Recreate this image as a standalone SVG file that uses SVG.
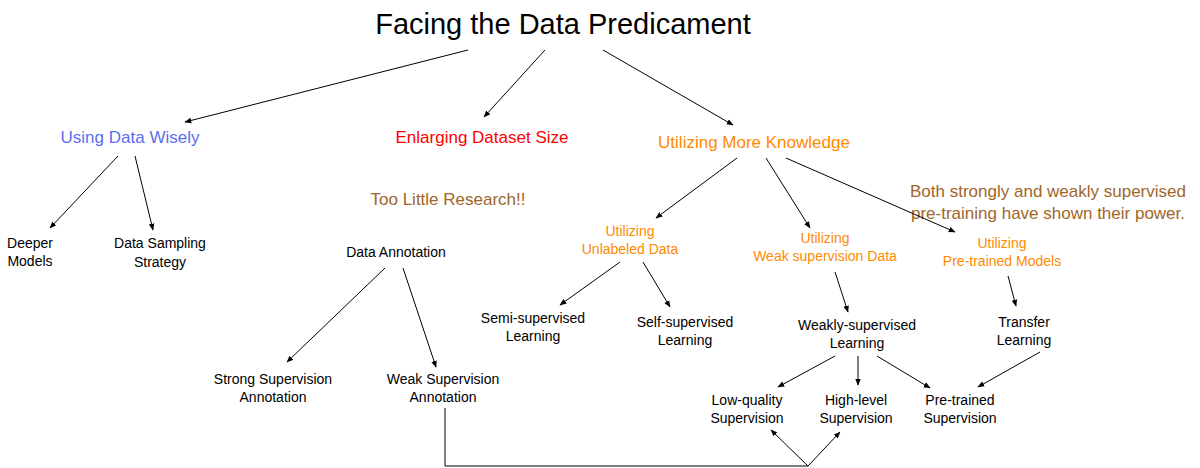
<svg xmlns="http://www.w3.org/2000/svg" width="1200" height="468" viewBox="0 0 1200 468">
<defs>
<marker id="a" viewBox="0 0 10 10" refX="9" refY="5" markerWidth="7" markerHeight="7" orient="auto"><path d="M0,1 L10,5 L0,9 z" fill="#000"/></marker>
<style>
text{font-family:"Helvetica","Liberation Sans",Arial,sans-serif;text-anchor:middle}
.n{font-size:14px;fill:#000}
.o{font-size:14px;fill:#ff8a00}
.h{font-size:17px}
.b{fill:#a0662a;font-size:17px}
line,path.c{stroke:#000;stroke-width:1;fill:none}
line{marker-end:url(#a)}
</style>
</defs>
<rect width="1200" height="468" fill="#fff"/>
<g id="title"><text x="563" y="34" style="font-size:29px">Facing the Data Predicament</text></g>
<g id="wisely"><text x="130" y="143" class="h" fill="#5a6ff0">Using Data Wisely</text></g>
<g id="enlarge"><text x="482" y="143" class="h" fill="#ff0000">Enlarging Dataset Size</text></g>
<g id="knowledge"><text x="754" y="148" class="h" fill="#ff8a00">Utilizing More Knowledge</text></g>
<g id="deeper"><text x="30" y="248" class="n">Deeper</text><text x="30" y="266" class="n">Models</text></g>
<g id="sampling"><text x="160" y="248" class="n">Data Sampling</text><text x="160" y="267" class="n">Strategy</text></g>
<g id="research"><text x="448" y="205" class="b">Too Little Research!!</text></g>
<g id="annotation"><text x="396" y="257" class="n">Data Annotation</text></g>
<g id="strong"><text x="273" y="384" class="n">Strong Supervision</text><text x="273" y="402" class="n">Annotation</text></g>
<g id="weak"><text x="443" y="384" class="n">Weak Supervision</text><text x="443" y="402" class="n">Annotation</text></g>
<g id="unlabeled"><text x="630" y="236" class="o">Utilizing</text><text x="630" y="254" class="o">Unlabeled Data</text></g>
<g id="semi"><text x="533" y="323" class="n">Semi-supervised</text><text x="533" y="341" class="n">Learning</text></g>
<g id="self"><text x="685" y="327" class="n">Self-supervised</text><text x="685" y="345" class="n">Learning</text></g>
<g id="weakdata"><text x="825" y="243" class="o">Utilizing</text><text x="825" y="261" class="o">Weak supervision Data</text></g>
<g id="weakly"><text x="857" y="330" class="n">Weakly-supervised</text><text x="857" y="348" class="n">Learning</text></g>
<g id="lowq"><text x="747" y="405" class="n">Low-quality</text><text x="747" y="423" class="n">Supervision</text></g>
<g id="highl"><text x="856" y="405" class="n">High-level</text><text x="856" y="423" class="n">Supervision</text></g>
<g id="pretsup"><text x="960" y="405" class="n">Pre-trained</text><text x="960" y="423" class="n">Supervision</text></g>
<g id="pretrained"><text x="1002" y="248" class="o">Utilizing</text><text x="1002" y="266" class="o">Pre-trained Models</text></g>
<g id="transfer"><text x="1024" y="327" class="n">Transfer</text><text x="1024" y="345" class="n">Learning</text></g>
<g id="both"><text x="1048" y="197" class="b">Both  strongly and weakly supervised</text><text x="1048" y="219" class="b">pre-training have shown their power.</text></g>
<g id="connectors">
<line x1="468" y1="50" x2="185" y2="122"/>
<line x1="545" y1="50" x2="484" y2="117"/>
<line x1="603" y1="50" x2="733" y2="125"/>
<line x1="118" y1="156" x2="50" y2="228"/>
<line x1="135" y1="156" x2="153" y2="230"/>
<line x1="385" y1="268" x2="287" y2="362"/>
<line x1="403" y1="268" x2="436" y2="367"/>
<path class="c" d="M445,408 V466 H808"/>
<line x1="808" y1="466" x2="771" y2="430"/>
<line x1="808" y1="466" x2="840" y2="432"/>
<line x1="737" y1="158" x2="656" y2="218"/>
<line x1="766" y1="158" x2="810" y2="228"/>
<line x1="786" y1="158" x2="955" y2="232"/>
<line x1="620" y1="262" x2="560" y2="305"/>
<line x1="643" y1="262" x2="670" y2="307"/>
<line x1="835" y1="272" x2="848" y2="312"/>
<line x1="835" y1="356" x2="778" y2="387"/>
<line x1="858" y1="356" x2="858" y2="385"/>
<line x1="877" y1="356" x2="930" y2="388"/>
<line x1="1008" y1="276" x2="1016" y2="306"/>
<line x1="1040" y1="352" x2="978" y2="387"/>
</g>
</svg>
